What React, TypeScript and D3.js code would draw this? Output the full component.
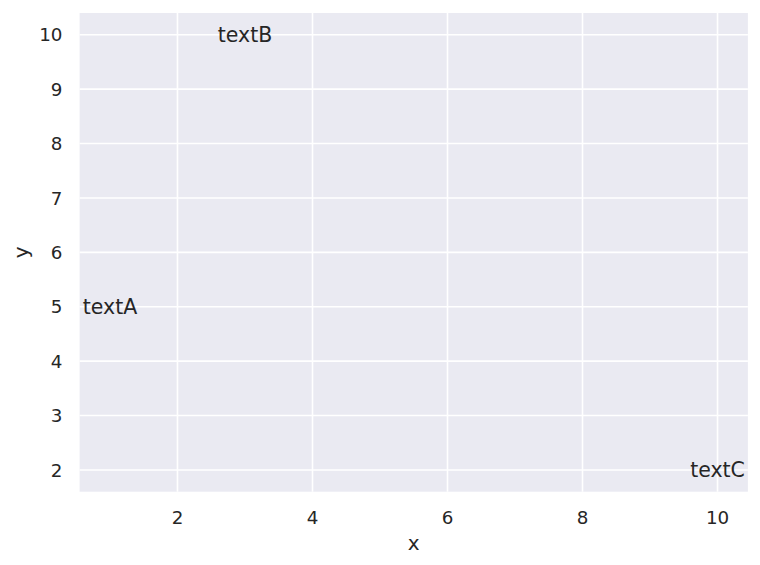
import React, { useEffect, useRef } from 'react';
import * as d3 from 'd3';

// annotation positions and labels
const labels = ['textA', 'textB', 'textC'];
const xs = [1, 3, 10];
const ys = [5, 10, 2];
const xTicks = [2, 4, 6, 8, 10];
const yTicks = [2, 3, 4, 5, 6, 7, 8, 9, 10];

const W = 760;
const H = 565;

const App: React.FC = () => {
  const svgRef = useRef<SVGSVGElement>(null);

  useEffect(() => {
    if (!svgRef.current) return;
    const svg = d3.select(svgRef.current);
    svg.selectAll('*').remove();

    const left = 79.6, right = 747.9, top = 13, bottom = 491.7;
    const font = '"DejaVu Sans", sans-serif';
    const ink = '#262626';

    // matplotlib-style 5% margins
    const xPad = (d3.max(xs)! - d3.min(xs)!) * 0.05;
    const yPad = (d3.max(ys)! - d3.min(ys)!) * 0.05;
    const x = d3.scaleLinear().domain([d3.min(xs)! - xPad, d3.max(xs)! + xPad]).range([left, right]);
    const y = d3.scaleLinear().domain([d3.min(ys)! - yPad, d3.max(ys)! + yPad]).range([bottom, top]);

    svg.append('rect')
      .attr('x', left).attr('y', top)
      .attr('width', right - left).attr('height', bottom - top)
      .attr('fill', '#eaeaf2');

    // grid
    svg.append('g').selectAll('line').data(xTicks).join('line')
      .attr('x1', d => x(d)).attr('x2', d => x(d))
      .attr('y1', top).attr('y2', bottom)
      .attr('stroke', '#fff').attr('stroke-width', 1.6);
    svg.append('g').selectAll('line').data(yTicks).join('line')
      .attr('y1', d => y(d)).attr('y2', d => y(d))
      .attr('x1', left).attr('x2', right)
      .attr('stroke', '#fff').attr('stroke-width', 1.6);

    // tick labels
    svg.append('g').selectAll('text').data(xTicks).join('text')
      .attr('x', d => x(d)).attr('y', 523.5)
      .attr('text-anchor', 'middle')
      .style('font-family', font).style('font-size', '18.3px').style('fill', ink)
      .text(d => d);
    svg.append('g').selectAll('text').data(yTicks).join('text')
      .attr('x', 62.5).attr('y', d => y(d)).attr('dy', '0.36em')
      .attr('text-anchor', 'end')
      .style('font-family', font).style('font-size', '18.3px').style('fill', ink)
      .text(d => d);

    // axis labels
    svg.append('text')
      .attr('x', (left + right) / 2).attr('y', 549.5)
      .attr('text-anchor', 'middle')
      .style('font-family', font).style('font-size', '20px').style('fill', ink)
      .text('x');
    svg.append('text')
      .attr('transform', `translate(27.5,${(top + bottom) / 2}) rotate(-90)`)
      .attr('text-anchor', 'middle')
      .style('font-family', font).style('font-size', '20px').style('fill', ink)
      .text('y');

    // annotations
    svg.append('g').selectAll('text').data(labels).join('text')
      .attr('x', (_, i) => x(xs[i])).attr('y', (_, i) => y(ys[i])).attr('dy', '0.36em')
      .attr('text-anchor', 'middle')
      .style('font-family', font).style('font-size', '20.5px').style('fill', ink)
      .text(d => d);
  }, []);

  return (
    <svg ref={svgRef} width={W} height={H}
      style={{ position: 'absolute', left: 0, top: 0, background: '#fff' }} />
  );
};

export default App;
